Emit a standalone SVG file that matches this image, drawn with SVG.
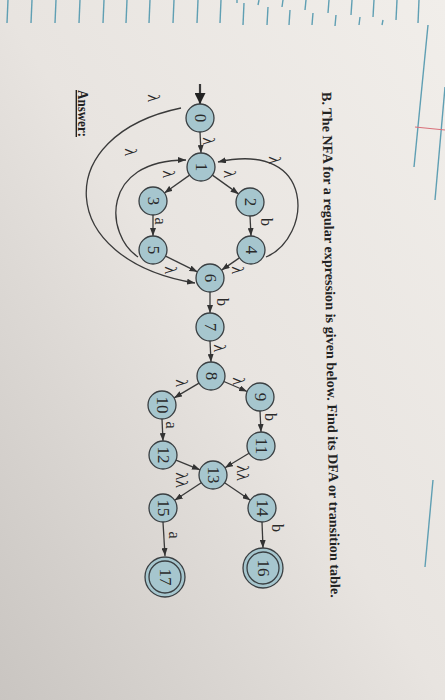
<svg xmlns="http://www.w3.org/2000/svg" width="445" height="700" viewBox="0 0 445 700">
<defs>
<linearGradient id="bg" x1="1" y1="0" x2="0" y2="1">
<stop offset="0" stop-color="#f1eeea"/>
<stop offset="0.5" stop-color="#e8e4e0"/>
<stop offset="1" stop-color="#c9c5c1"/>
</linearGradient>
<marker id="ah" viewBox="0 0 8 6" refX="8" refY="3" markerWidth="8" markerHeight="6" markerUnits="userSpaceOnUse" orient="auto">
<path d="M0,0 L8,3 L0,6 z" fill="#333"/>
</marker>
<marker id="ahb" viewBox="0 0 10 10" refX="10" refY="5" markerWidth="11" markerHeight="11" markerUnits="userSpaceOnUse" orient="auto">
<path d="M0,0 L10,5 L0,10 z" fill="#222"/>
</marker>
</defs>
<style>
.n circle{fill:#a6c6ce;stroke:#3a3f42;stroke-width:1.3}
.n text,.lb{font-family:"Liberation Serif","Times New Roman",serif;fill:#2a2a2a;text-anchor:middle;dominant-baseline:central}
.n text{font-size:17px}
.lb{font-size:16px}
.e path,.e line{stroke:#3a3a3a;stroke-width:1.3;fill:none;marker-end:url(#ah)}
.tk{stroke:#5f9fb3;stroke-width:1.4}
.hd{font-family:"Liberation Serif","Times New Roman",serif;font-weight:bold;font-size:14px;fill:#222}
</style>
<rect x="0" y="0" width="445" height="700" fill="url(#bg)"/>
<g id="page-lines">
<line class="tk" x1="8" y1="0" x2="7" y2="23"/>
<line class="tk" x1="32" y1="0" x2="31" y2="23"/>
<line class="tk" x1="56" y1="0" x2="55" y2="23"/>
<line class="tk" x1="80" y1="0" x2="79" y2="23"/>
<line class="tk" x1="104" y1="0" x2="103" y2="23"/>
<line class="tk" x1="127" y1="0" x2="126" y2="23"/>
<line class="tk" x1="150" y1="0" x2="149" y2="23"/>
<line class="tk" x1="174" y1="0" x2="173" y2="23"/>
<line class="tk" x1="198" y1="0" x2="197" y2="23"/>
<line class="tk" x1="221" y1="0" x2="220" y2="23"/>
<line class="tk" x1="244" y1="3" x2="243" y2="25"/>
<line class="tk" x1="268" y1="7" x2="267" y2="25"/>
<line class="tk" x1="290" y1="10" x2="289" y2="25"/>
<line class="tk" x1="313" y1="13" x2="312" y2="25"/>
<line class="tk" x1="336" y1="15" x2="335" y2="26"/>
<line class="tk" x1="360" y1="17" x2="359" y2="25"/>
<line class="tk" x1="383" y1="20" x2="382" y2="25"/>
<line class="tk" x1="237" y1="0" x2="237" y2="3"/>
<line class="tk" x1="259" y1="0" x2="258" y2="5"/>
<line class="tk" x1="283" y1="0" x2="282" y2="7"/>
<line class="tk" x1="306" y1="0" x2="305" y2="10"/>
<line class="tk" x1="329" y1="0" x2="328" y2="13"/>
<line class="tk" x1="352" y1="0" x2="351" y2="15"/>
<line class="tk" x1="374" y1="0" x2="373" y2="17"/>
<line class="tk" x1="397" y1="0" x2="396" y2="20"/>
<line class="tk" x1="419" y1="0" x2="418" y2="23"/>
<line class="tk" x1="428" y1="25" x2="414" y2="167"/>
<line class="tk" x1="445" y1="87" x2="435" y2="200"/>
<line class="tk" x1="433" y1="480" x2="425" y2="567"/>
<line x1="415" y1="127" x2="445" y2="130" stroke="#d9707a" stroke-width="1.2"/>
</g>
<text class="hd" transform="translate(322,92) rotate(89)" textLength="506" lengthAdjust="spacingAndGlyphs">B.  The NFA for a regular expression is given below.  Find its DFA or transition table.</text>
<text class="hd" transform="translate(78,90) rotate(90)" textLength="47" lengthAdjust="spacingAndGlyphs" text-decoration="underline">Answer:</text>
<g id="connectors" class="e">
<line x1="200" y1="84" x2="200" y2="104" style="stroke-width:2.2;marker-end:url(#ahb)"/>
<line x1="200" y1="132" x2="201" y2="153"/>
<line x1="212.4" y1="175.1" x2="238.6" y2="193.9"/>
<line x1="189.6" y1="175.1" x2="164.4" y2="193"/>
<line x1="250" y1="216" x2="251" y2="236"/>
<line x1="153" y1="215" x2="153" y2="236"/>
<line x1="239.4" y1="257.9" x2="221.6" y2="270.1"/>
<line x1="165.6" y1="256.2" x2="197.4" y2="271.8"/>
<path d="M 181,108 C 50,135 55,260 195,283"/>
<path d="M 138,257 C 105,235 100,160 186,160"/>
<path d="M 266,257 C 312,238 318,140 218,162"/>
<line x1="210" y1="292" x2="210" y2="313"/>
<line x1="210" y1="341" x2="211" y2="362"/>
<line x1="199" y1="383.1" x2="174.1" y2="397.9"/>
<line x1="223.9" y1="381.5" x2="247.1" y2="391.5"/>
<line x1="260" y1="411" x2="261" y2="432"/>
<line x1="162" y1="419" x2="163" y2="441"/>
<line x1="249" y1="453.2" x2="225" y2="467.8"/>
<line x1="176" y1="460.2" x2="200" y2="469.8"/>
<line x1="224.6" y1="482.8" x2="250.4" y2="500.2"/>
<line x1="201.3" y1="482.7" x2="174.7" y2="500.3"/>
<line x1="262" y1="522" x2="263" y2="548"/>
<line x1="163" y1="522" x2="165" y2="556"/>
</g>
<g id="edge-labels">
<text class="lb" transform="translate(208,141) rotate(90)">λ</text>
<text class="lb" transform="translate(229,174) rotate(90)">λ</text>
<text class="lb" transform="translate(168,174) rotate(90)">λ</text>
<text class="lb" transform="translate(266,222) rotate(90)">b</text>
<text class="lb" transform="translate(160,221) rotate(90)">a</text>
<text class="lb" transform="translate(237,270) rotate(90)">λ</text>
<text class="lb" transform="translate(170,270) rotate(90)">λ</text>
<text class="lb" transform="translate(153,98) rotate(90)">λ</text>
<text class="lb" transform="translate(130,152) rotate(90)">λ</text>
<text class="lb" transform="translate(274,160) rotate(90)">λ</text>
<text class="lb" transform="translate(222,302) rotate(90)">b</text>
<text class="lb" transform="translate(219,348) rotate(90)">λ</text>
<text class="lb" transform="translate(181,383) rotate(90)">λ</text>
<text class="lb" transform="translate(238,381) rotate(90)">λ</text>
<text class="lb" transform="translate(270,417) rotate(90)">b</text>
<text class="lb" transform="translate(171,425) rotate(90)">a</text>
<text class="lb" transform="translate(242,473) rotate(90)">λλ</text>
<text class="lb" transform="translate(181,480) rotate(90)">λλ</text>
<text class="lb" transform="translate(277,528) rotate(90)">b</text>
<text class="lb" transform="translate(174,535) rotate(90)">a</text>
</g>
<g id="n0" class="n"><circle cx="200" cy="118" r="14"/><text transform="translate(200,118) rotate(90)">0</text></g>
<g id="n1" class="n"><circle cx="201" cy="167" r="14"/><text transform="translate(201,167) rotate(90)">1</text></g>
<g id="n2" class="n"><circle cx="250" cy="202" r="14"/><text transform="translate(250,202) rotate(90)">2</text></g>
<g id="n3" class="n"><circle cx="153" cy="201" r="14"/><text transform="translate(153,201) rotate(90)">3</text></g>
<g id="n4" class="n"><circle cx="251" cy="250" r="14"/><text transform="translate(251,250) rotate(90)">4</text></g>
<g id="n5" class="n"><circle cx="153" cy="250" r="14"/><text transform="translate(153,250) rotate(90)">5</text></g>
<g id="n6" class="n"><circle cx="210" cy="278" r="14"/><text transform="translate(210,278) rotate(90)">6</text></g>
<g id="n7" class="n"><circle cx="210" cy="327" r="14"/><text transform="translate(210,327) rotate(90)">7</text></g>
<g id="n8" class="n"><circle cx="211" cy="376" r="14"/><text transform="translate(211,376) rotate(90)">8</text></g>
<g id="n9" class="n"><circle cx="260" cy="397" r="14"/><text transform="translate(260,397) rotate(90)">9</text></g>
<g id="n10" class="n"><circle cx="162" cy="405" r="14"/><text transform="translate(162,405) rotate(90)">10</text></g>
<g id="n11" class="n"><circle cx="261" cy="446" r="14"/><text transform="translate(261,446) rotate(90)">11</text></g>
<g id="n12" class="n"><circle cx="163" cy="455" r="14"/><text transform="translate(163,455) rotate(90)">12</text></g>
<g id="n13" class="n"><circle cx="213" cy="475" r="14"/><text transform="translate(213,475) rotate(90)">13</text></g>
<g id="n14" class="n"><circle cx="262" cy="508" r="14"/><text transform="translate(262,508) rotate(90)">14</text></g>
<g id="n15" class="n"><circle cx="163" cy="508" r="14"/><text transform="translate(163,508) rotate(90)">15</text></g>
<g id="n16" class="n"><circle cx="263" cy="568" r="20"/><circle cx="263" cy="568" r="16"/><text transform="translate(263,568) rotate(90)">16</text></g>
<g id="n17" class="n"><circle cx="165" cy="577" r="20"/><circle cx="165" cy="577" r="16"/><text transform="translate(165,577) rotate(90)">17</text></g>
</svg>
